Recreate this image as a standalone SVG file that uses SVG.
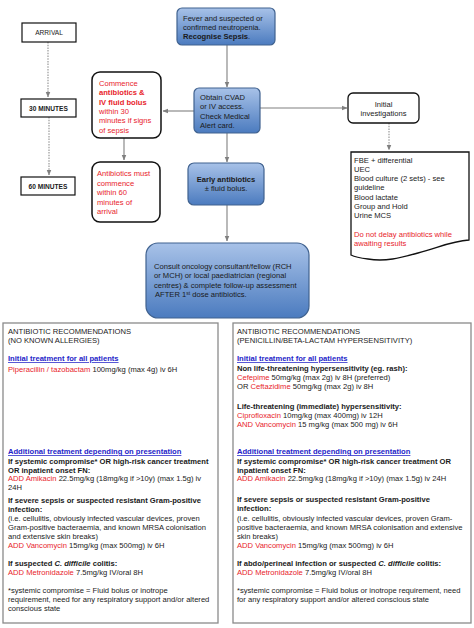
<svg xmlns="http://www.w3.org/2000/svg" width="474" height="628" viewBox="0 0 474 628">
<defs>
<linearGradient id="blue" x1="0" y1="0" x2="0" y2="1">
<stop offset="0" stop-color="#a8c2e8"/>
<stop offset="1" stop-color="#4b7bbf"/>
</linearGradient>
<marker id="ah" viewBox="0 0 6 6" refX="5.5" refY="3" markerWidth="5" markerHeight="5" orient="auto">
<path d="M0,0.5 L6,3 L0,5.5 Z" fill="#808080"/>
</marker>
<style>
text{font-family:"Liberation Sans",Arial,sans-serif;font-size:7.6px;fill:#1a1a1a}
.tl{font-size:6.6px;text-anchor:middle}
.b{font-weight:bold}
.r{fill:#e8232b}
.h{fill:#2424c8;font-weight:bold;text-decoration:underline}
.i{font-style:italic}
.bn{fill:url(#blue);stroke:#40628f;stroke-width:1.2}
.wb{fill:#fff;stroke:#111;stroke-width:1.5}
.pn{fill:#fff;stroke:#8a8a8a;stroke-width:1.3}
.c{stroke:#808080;stroke-width:1.1;fill:none;marker-end:url(#ah)}
.d{stroke:#909090;stroke-width:1.1;fill:none;stroke-dasharray:1.5 1.2;marker-end:url(#ah)}
</style>
</defs>
<rect width="474" height="628" fill="#fff"/>

<g id="connectors">
<path class="d" d="M48,42 V97"/>
<path class="d" d="M49,117 V175"/>
<path class="c" d="M227,45 V87"/>
<path class="c" d="M194,111 H163"/>
<path class="c" d="M260,108 H347"/>
<path class="c" d="M227,133 V162"/>
<path class="c" d="M124,138 V160"/>
<path class="c" d="M227,205 V241"/>
<path class="d" d="M389,123 V150"/>
</g>

<g id="arrival">
<rect x="22" y="23" width="54" height="19" fill="#fff" stroke="#111" stroke-width="1.2"/>
<text class="tl" x="49" y="35">ARRIVAL</text>
</g>
<g id="min30">
<rect x="21" y="99" width="55" height="18" fill="#fff" stroke="#111" stroke-width="1.2"/>
<text class="tl b" x="48.5" y="110.5">30 MINUTES</text>
</g>
<g id="min60">
<rect x="21" y="177" width="54" height="18" fill="#fff" stroke="#111" stroke-width="1.2"/>
<text class="tl b" x="48" y="188.5">60 MINUTES</text>
</g>

<g id="fever">
<rect class="bn" x="177" y="8" width="98" height="37" rx="5"/>
<text x="183" y="20.5">Fever and suspected or</text>
<text x="183" y="29.5">confirmed neutropenia.</text>
<text x="183" y="38.5"><tspan class="b">Recognise Sepsis</tspan>.</text>
</g>

<g id="cvad">
<rect class="bn" x="194" y="88" width="66" height="45" rx="5"/>
<text x="200" y="100">Obtain CVAD</text>
<text x="200" y="109.3">or IV access.</text>
<text x="200" y="118.6">Check Medical</text>
<text x="200" y="128">Alert card.</text>
</g>

<g id="commence">
<rect class="wb" x="92" y="72" width="69" height="66" rx="8"/>
<text class="r" x="99" y="86">Commence</text>
<text class="r b" x="99" y="95.3">antibiotics &amp;</text>
<text class="r b" x="99" y="104.6"> IV fluid bolus</text>
<text class="r" x="99" y="113.9">within 30</text>
<text class="r" x="99" y="123.2">minutes if signs</text>
<text class="r" x="99" y="132.5">of sepsis</text>
</g>

<g id="must">
<rect class="wb" x="92" y="162" width="68" height="60" rx="8"/>
<text class="r" x="97" y="176">Antibiotics must</text>
<text class="r" x="97" y="185.5">commence</text>
<text class="r" x="97" y="195">within 60</text>
<text class="r" x="97" y="204.5">minutes of</text>
<text class="r" x="97" y="214">arrival</text>
</g>

<g id="early">
<rect class="bn" x="188" y="163" width="76" height="42" rx="6"/>
<text class="b" x="226" y="182" text-anchor="middle">Early antibiotics</text>
<text x="226" y="191" text-anchor="middle">± fluid bolus.</text>
</g>

<g id="consult">
<rect class="bn" x="146" y="243" width="163" height="75" rx="12"/>
<text x="154" y="269">Consult oncology consultant/fellow (RCH</text>
<text x="154" y="278.3">or MCH) or local paediatrician (regional</text>
<text x="154" y="287.6">centres) &amp; complete follow-up assessment</text>
<text x="155" y="297"> AFTER 1<tspan font-size="5" dy="-2.5">st</tspan><tspan dy="2.5"> dose antibiotics.</tspan></text>
</g>

<g id="initial">
<rect x="348" y="93" width="71" height="30" rx="5" fill="#fff" stroke="#111" stroke-width="1.3"/>
<text x="383.5" y="107" text-anchor="middle">Initial</text>
<text x="383.5" y="116" text-anchor="middle">investigations</text>
</g>

<g id="investigations">
<path d="M351,152 H469 V240 C452,241 440,247 418,253 C400,258 385,262 368,259 C360,258 355,257 351,255 Z" fill="#fff" stroke="#111" stroke-width="1.3"/>
<text x="354" y="163">FBE + differential</text>
<text x="354" y="172">UEC</text>
<text x="354" y="181">Blood culture (2 sets) - see</text>
<text x="354" y="190">guideline</text>
<text x="354" y="200">Blood lactate</text>
<text x="354" y="209">Group and Hold</text>
<text x="354" y="218">Urine MCS</text>
<text class="r" x="354" y="237">Do not delay antibiotics while</text>
<text class="r" x="354" y="246">awaiting results</text>
</g>

<g id="panel-nka">
<rect class="pn" x="3" y="323" width="215" height="300"/>
<text x="8" y="334">ANTIBIOTIC RECOMMENDATIONS</text>
<text x="8" y="343">(NO KNOWN ALLERGIES)</text>
<text class="h" x="8" y="361">Initial treatment for all patients</text>
<text x="8" y="372"><tspan class="r">Piperacillin / tazobactam</tspan> 100mg/kg (max 4g) iv 6H</text>
<text class="h" x="8" y="454">Additional treatment depending on presentation</text>
<text class="b" x="8" y="464">If systemic compromise* OR high-risk cancer treatment</text>
<text class="b" x="8" y="473">OR inpatient onset FN:</text>
<text x="8" y="481"><tspan class="r">ADD Amikacin</tspan> 22.5mg/kg (18mg/kg if &gt;10y) (max 1.5g) iv</text>
<text x="8" y="490">24H</text>
<text class="b" x="8" y="502.5">If severe sepsis or suspected resistant Gram-positive</text>
<text class="b" x="8" y="511.5">infection:</text>
<text x="8" y="520.5">(i.e. cellulitis, obviously infected vascular devices, proven</text>
<text x="8" y="530">Gram-positive bacteraemia, and known MRSA colonisation</text>
<text x="8" y="539">and extensive skin breaks)</text>
<text x="8" y="548"><tspan class="r">ADD Vancomycin</tspan> 15mg/kg (max 500mg) iv 6H</text>
<text class="b" x="8" y="566">If suspected <tspan class="i">C. difficile</tspan> colitis:</text>
<text x="8" y="575"><tspan class="r">ADD Metronidazole</tspan> 7.5mg/kg IV/oral 8H</text>
<text x="8" y="592.5">*systemic compromise = Fluid bolus or inotrope</text>
<text x="8" y="601.5">requirement, need for any respiratory support and/or altered</text>
<text x="8" y="610.5">conscious state</text>
</g>

<g id="panel-hyper">
<rect class="pn" x="233" y="323" width="238" height="300"/>
<text x="237" y="334">ANTIBIOTIC RECOMMENDATIONS</text>
<text x="237" y="343">(PENICILLIN/BETA-LACTAM HYPERSENSITIVITY)</text>
<text class="h" x="237" y="361">Initial treatment for all patients</text>
<text class="b" x="237" y="370.5">Non life-threatening hypersensitivity (eg. rash):</text>
<text x="237" y="380"><tspan class="r">Cefepime</tspan> 50mg/kg (max 2g) iv 8H (preferred)</text>
<text x="237" y="389">OR <tspan class="r">Ceftazidime</tspan> 50mg/kg (max 2g) iv 8H</text>
<text class="b" x="237" y="409">Life-threatening (immediate) hypersensitivity:</text>
<text x="237" y="418"><tspan class="r">Ciprofloxacin</tspan> 10mg/kg (max 400mg) iv 12H</text>
<text x="237" y="427"><tspan class="r">AND Vancomycin</tspan> 15 mg/kg (max 500 mg) iv 6H</text>
<text class="h" x="237" y="454">Additional treatment depending on presentation</text>
<text class="b" x="237" y="464">If systemic compromise* OR high-risk cancer treatment OR</text>
<text class="b" x="237" y="473">inpatient onset FN:</text>
<text x="237" y="481"><tspan class="r">ADD Amikacin</tspan> 22.5mg/kg (18mg/kg if &gt;10y) (max 1.5g) iv 24H</text>
<text class="b" x="237" y="502">If severe sepsis or suspected resistant Gram-positive</text>
<text class="b" x="237" y="511">infection:</text>
<text x="237" y="520.5">(i.e. cellulitis, obviously infected vascular devices, proven Gram-</text>
<text x="237" y="530">positive bacteraemia, and known MRSA colonisation and extensive</text>
<text x="237" y="539">skin breaks)</text>
<text x="237" y="548"><tspan class="r">ADD Vancomycin</tspan> 15mg/kg (max 500mg) iv 6H</text>
<text class="b" x="237" y="566">If abdo/perineal infection or suspected <tspan class="i">C. difficile</tspan> colitis:</text>
<text x="237" y="575"><tspan class="r">ADD Metronidazole</tspan> 7.5mg/kg IV/oral 8H</text>
<text x="237" y="592.5">*systemic compromise = Fluid bolus or inotrope requirement, need</text>
<text x="237" y="601.5">for any respiratory support and/or altered conscious state</text>
</g>
</svg>
